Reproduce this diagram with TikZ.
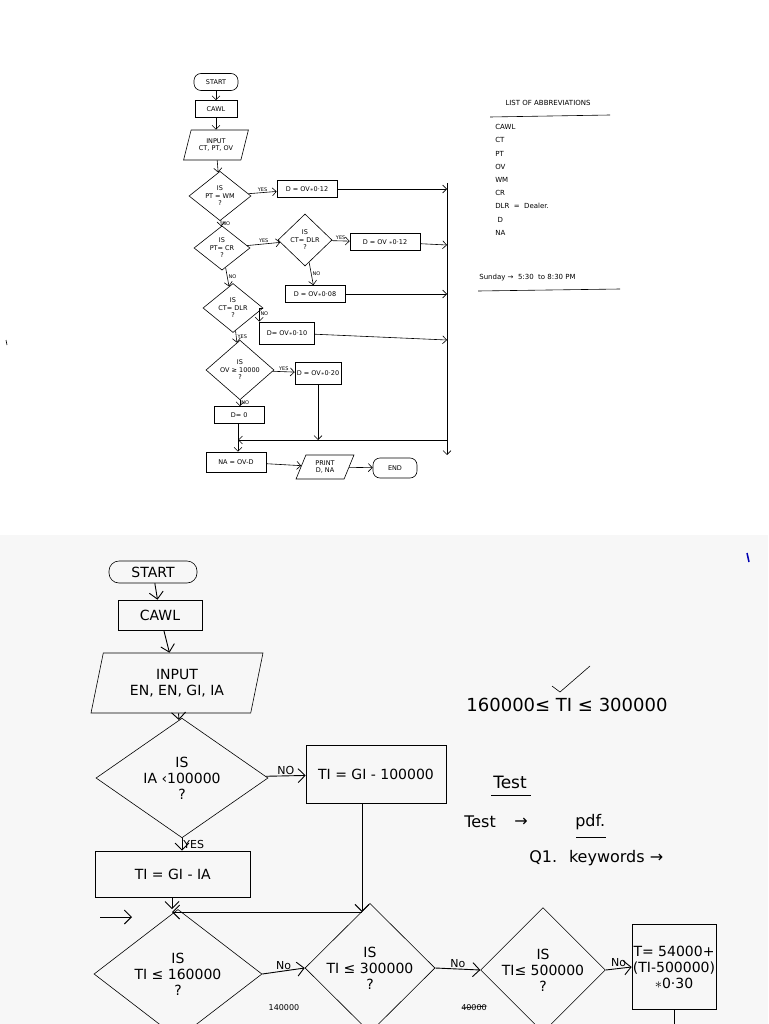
\documentclass[tikz,border=0pt]{standalone}
\usepackage{fontspec}
\setmainfont{DejaVu Sans}
\usetikzlibrary{shapes.geometric,arrows.meta}
\begin{document}
\begin{tikzpicture}[x=1pt,y=-1pt,line width=0.6pt,
  ts/.style={font=\fontsize{6.5}{7.5}\selectfont,align=center,inner sep=1pt},
  tbox/.style={ts,draw,rectangle,minimum height=17},
  tdia/.style={ts,draw,diamond,inner sep=0pt},
  tio/.style={ts,draw,trapezium,trapezium left angle=70,trapezium right angle=110,trapezium stretches=true},
  tterm/.style={ts,draw,rounded corners=7pt,minimum height=17},
  bs/.style={font=\fontsize{14}{16}\selectfont,align=center,inner sep=1pt},
  bbox/.style={bs,draw,rectangle},
  bdia/.style={bs,draw,diamond,inner sep=0pt},
  lab/.style={font=\fontsize{5}{6}\selectfont,inner sep=1pt},
  blab/.style={font=\fontsize{11}{12}\selectfont,inner sep=1pt},
  arr/.style={-{Straight Barb[length=4pt]}},
  barr/.style={-{Straight Barb[length=7pt]},line width=0.9pt}]
\useasboundingbox (0,0) rectangle (768,1024);
\fill[white] (0,0) rectangle (768,1024);
\fill[black!3] (0,535) rectangle (768,1024);
% ---------- top flowchart ----------
\node[tterm,minimum width=44] (s) at (216,82) {START};
\node[tbox,minimum width=42] (c) at (216,109) {CAWL};
\node[tio,minimum width=65,minimum height=30] (in) at (216,145) {INPUT\\CT, PT, OV};
\node[tdia,minimum width=62,minimum height=42] (d1) at (220,196) {IS\\PT = WM\\?};
\node[tbox,minimum width=60] (b1) at (307,189) {D = OV$*$0·12};
\node[tdia,minimum width=56,minimum height=38] (d2) at (222,248) {IS\\PT= CR\\?};
\node[tdia,minimum width=54,minimum height=52] (d3) at (305,240) {IS\\CT= DLR\\?};
\node[tbox,minimum width=70] (b2) at (385,242) {D = OV $*$0·12};
\node[tbox,minimum width=60] (b3) at (315,294) {D = OV$*$0·08};
\node[tdia,minimum width=60,minimum height=48] (d4) at (233,308) {IS\\CT= DLR\\?};
\node[tbox,minimum width=55,minimum height=22] (b4) at (287,333) {D= OV$*$0·10};
\node[tdia,minimum width=68,minimum height=52] (d5) at (240,370) {IS\\OV ≥ 10000\\?};
\node[tbox,minimum width=46,minimum height=22] (b5) at (318,373) {D = OV$*$0·20};
\node[tbox,minimum width=50,anchor=west] (b6) at (214,415) {D= 0};
\node[tbox,minimum width=60,minimum height=20] (b7) at (236,462) {NA = OV-D};
\node[tio,minimum width=58,minimum height=24] (pr) at (325,467) {PRINT\\D, NA};
\node[tterm,minimum width=44,minimum height=20] (en) at (395,468) {END};
\coordinate (r1) at (447,189);
\coordinate (r2) at (447,245);
\coordinate (r3) at (447,294);
\coordinate (r4) at (447,340);
\coordinate (rt) at (447,183);
\coordinate (rb) at (447,455);
\coordinate (m5) at (318,440);
\coordinate (mr) at (447,440);
\coordinate (ml) at (238,440);
\draw[arr] (s) -- (c);
\draw[arr] (c) -- (in);
\draw[arr] (in) -- (d1);
\draw[arr] (d1) -- node[lab,above]{YES} (b1);
\draw[arr] (b1) -- (r1);
\draw[arr] (d1) -- node[lab,right]{NO} (d2);
\draw[arr] (d2) -- node[lab,above]{YES} (d3);
\draw[arr] (d3) -- node[lab,above]{YES} (b2);
\draw[arr] (b2) -- (r2);
\draw[arr] (d3) -- node[lab,right]{NO} (b3);
\draw[arr] (b3) -- (r3);
\draw[arr] (d2) -- node[lab,right]{NO} (d4);
\draw[arr] (d4.east) -| node[lab,right,pos=0.7]{NO} (b4.north west);
\draw[arr] (b4) -- (r4);
\draw[arr] (d4) -- node[lab,right]{YES} (d5);
\draw[arr] (d5) -- node[lab,above]{YES} (b5);
\draw[arr] (d5.south) -- node[lab,right]{NO} (d5.south |- b6.north);
\draw[arr] (b5) -- (m5);
\draw[arr] (rt) -- (rb);
\draw[arr] (mr) -- (ml);
\draw[arr] (b6.south -| ml) -- (b7.north -| ml);
\draw[arr] (b7) -- (pr);
\draw[arr] (pr) -- (en);
% abbreviations
\node[ts,font=\fontsize{7}{8}\selectfont] (ab) at (548,103) {LIST OF ABBREVIATIONS};
\draw (490,117) -- (610,115);
\node[ts,anchor=west,align=left,font=\fontsize{7}{13.2}\selectfont] (al) at (494,180) {CAWL\\CT\\PT\\OV\\WM\\CR\\DLR \ = \ Dealer.\\\ D\\NA};
\node[ts,font=\fontsize{7}{8}\selectfont,anchor=west] (su) at (478,278) {Sunday → \ 5:30 \ to 8:30 PM};
\draw (478,291) -- (620,289);
% ---------- bottom flowchart ----------
\node[bbox,rounded corners=10pt,minimum width=88,minimum height=22] (S) at (153,572) {START};
\node[bbox,minimum width=84,minimum height=30] (C) at (160,615) {CAWL};
\node[bs,draw,trapezium,trapezium left angle=75,trapezium right angle=105,trapezium stretches=true,minimum width=172,minimum height=60] (I) at (177,683) {INPUT\\EN, EN, GI, IA};
\node[bdia,minimum width=172,minimum height=90] (D1) at (182,778) {IS\\IA ‹100000\\?};
\node[bbox,minimum width=140,minimum height=58] (B1) at (376,774) {TI = GI - 100000};
\node[bbox,minimum width=155,minimum height=46,anchor=west] (B2) at (95,874) {TI = GI - IA};
\node[bdia,minimum width=168,minimum height=84] (DA) at (178,974) {IS\\TI ≤ 160000\\?};
\node[bdia,minimum width=130,minimum height=112] (DB) at (370,968) {IS\\TI ≤ 300000\\?};
\node[bdia,minimum width=120,minimum height=116] (DC) at (543,970) {IS\\TI≤ 500000\\?};
\node[bbox,minimum width=78,minimum height=85,align=center] (B3) at (674,967) {T= 54000+\\(TI-500000)\\$*$0·30};
\coordinate (jx) at (172,912);
\coordinate (jb) at (362,912);
\draw[barr] (S) -- (C);
\draw[barr] (C) -- (I);
\draw[barr] (I) -- (D1);
\draw[barr] (D1) -- node[blab,above]{NO} (B1);
\draw[barr] (D1.south) -- node[blab,right]{YES} (D1.south |- B2.north);
\draw[barr] (B1.south -| jb) -- (jb);
\draw[barr] (jb) -- (jx);
\draw[barr] (B2.south -| jx) -- (DA.north -| jx);
\draw[barr] (DA.east) -- node[blab,above]{No} (DB.west);
\draw[barr] (DB.east) -- node[blab,above]{No} (DC.west);
\draw[barr] (DC.east) -- node[blab,above]{No} (B3.west);
\draw (B3.south) -- ++(0,20);
\coordinate (sa) at (100,917);
\coordinate (sb) at (132,917);
\draw[barr] (sa) -- (sb);
\node[font=\fontsize{8}{9}\selectfont,inner sep=0] (n1) at (284,1008) {140000};
\node[font=\fontsize{8}{9}\selectfont,inner sep=0] (n2) at (474,1008) {40000};
\draw (462,1008) -- (487,1006);
% right notes
\node[bs,font=\fontsize{18}{20}\selectfont] (ti) at (567,705) {160000≤ TI ≤ 300000};
\draw (552,686) -- (560,692) -- (590,666);
\node[bs,font=\fontsize{17}{19}\selectfont] (te) at (510,782) {Test};
\draw (491,795) -- (531,795);
\node[bs,font=\fontsize{16}{18}\selectfont,anchor=west] (tp) at (463,822) {Test};
\node[bs,font=\fontsize{16}{18}\selectfont] (ta) at (521,822) {→};
\node[bs,font=\fontsize{16}{18}\selectfont,anchor=west] (pdf) at (574,822) {pdf.};
\draw (576,837) -- (606,837);
\node[bs,font=\fontsize{16}{18}\selectfont,anchor=west] (q1) at (528,858) {Q1. \ keywords →};
\draw[blue!70!black,line width=1.5pt] (747,553) -- (749,562);
\draw (6,340) -- (7,345);
\end{tikzpicture}
\end{document}
